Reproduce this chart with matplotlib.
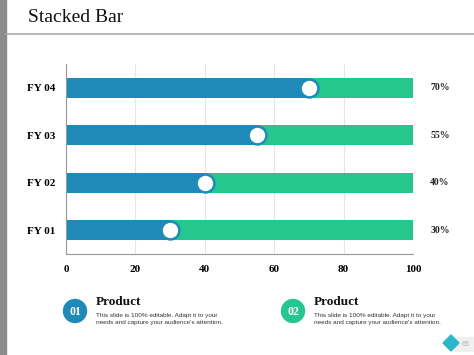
import matplotlib
matplotlib.use("Agg")
import matplotlib.pyplot as plt
from matplotlib.patches import Circle, Rectangle, RegularPolygon

# Data
years = ["FY 01", "FY 02", "FY 03", "FY 04"]
share = [30, 40, 55, 70]
pct_labels = ["30%", "40%", "55%", "70%"]
xticks = [0, 20, 40, 60, 80, 100]

blue = "#1f8ab8"
green = "#26c68f"

W, H = 474, 355
fig = plt.figure(figsize=(W / 100, H / 100), dpi=100)
serif = "Liberation Serif"
px = fig.dpi_scale_trans  # work in inches -> 100 px per unit


def P(x, y):
    # pixel coords (top-left origin) to inches
    return (x / 100, (H - y) / 100)


# slide decorations: left gray strip, title, rule
fig.patches.append(Rectangle((0, 0), 6 / W, 1, transform=fig.transFigure,
                             color="#8c8c8c", zorder=0))
fig.text(28 / W, 1 - 17 / H, "Stacked Bar", family=serif, fontsize=14,
         va="center", ha="left", color="#111111")
fig.add_artist(plt.Line2D([6 / W, 1], [1 - 34 / H] * 2, color="#aaaaaa", lw=1.2))

ax = fig.add_axes([66 / W, 1 - 254 / H, 347 / W, 190 / H])
y = range(len(years))
rest = [100 - v for v in share]
ax.barh(y, share, height=0.42, color=blue, zorder=2)
ax.barh(y, rest, left=share, height=0.42, color=green, zorder=2)
ax.scatter(share, y, s=165, facecolor="white", edgecolor=blue, linewidth=1.8, zorder=3)

ax.set_xlim(0, 100)
ax.set_ylim(-0.5, 3.5)
ax.set_xticks(xticks)
ax.set_xticklabels([str(t) for t in xticks], family=serif, fontweight="bold", fontsize=8)
ax.set_yticks(list(y))
ax.set_yticklabels(years, family=serif, fontweight="bold", fontsize=8)
ax.tick_params(length=0, pad=8)
ax.grid(axis="x", color="#e6e6e6", lw=0.8, zorder=0)
for s in ["top", "right"]:
    ax.spines[s].set_visible(False)
for s in ["left", "bottom"]:
    ax.spines[s].set_color("#999999")

for yi, lab in zip(y, pct_labels):
    ax.text(105, yi, lab, family=serif, fontweight="bold", fontsize=7,
            va="center", ha="left", color="#222222")

# bottom legend blocks
desc = "This slide is 100% editable. Adapt it to your\nneeds and capture your audience's attention."
for cx, num, col in [(75, "01", blue), (293, "02", green)]:
    fig.patches.append(Circle(P(cx, 311), 0.115, transform=px, color=col, zorder=2))
    fig.text(cx / W, 1 - 312 / H, num, family=serif, fontweight="bold", fontsize=8.5,
             color="white", ha="center", va="center")
    fig.text((cx + 21) / W, 1 - 302 / H, "Product", family=serif, fontweight="bold",
             fontsize=9.5, ha="left", va="center", color="#111111")
    fig.text((cx + 21) / W, 1 - 319 / H, desc, family="Liberation Sans", fontsize=4.6,
             ha="left", va="center", color="#333333", linespacing=1.3)

# page number marker
fig.patches.append(Rectangle(P(455, 351), 0.19, 0.14, transform=px, color="#f0f0f0", zorder=1))
fig.patches.append(RegularPolygon(P(451, 343), 4, radius=0.08, transform=px,
                                  color="#2bb6c9", zorder=2))
fig.text(466 / W, 1 - 344 / H, "66", fontsize=5, color="#aaaaaa",
         ha="center", va="center", family="Liberation Sans")

fig.savefig("out.png", dpi=100)
